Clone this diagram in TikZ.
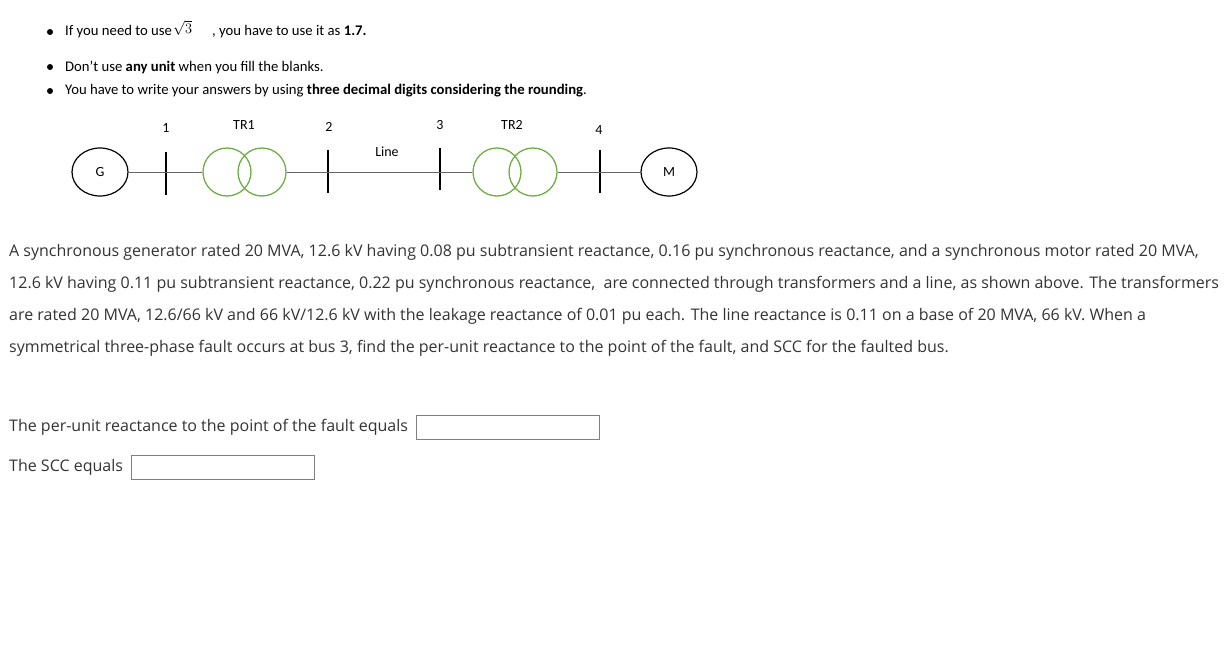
\documentclass[tikz,border=0pt]{standalone}
\usepackage{fontspec}
\usetikzlibrary{shapes.geometric}
\setmainfont{Carlito}
\newfontfamily\para{Open Sans}
\definecolor{tgreen}{RGB}{112,173,71}
\begin{document}
\begin{tikzpicture}[x=1pt,y=-1pt,
  bul/.style={anchor=west,inner sep=0pt,font=\fontsize{14.7}{17}\selectfont},
  par/.style={anchor=west,inner sep=0pt,font=\para\fontsize{16}{19}\selectfont,text=black!80},
  lab/.style={inner sep=0pt,font=\fontsize{14}{16}\selectfont},
  mach/.style={draw,line width=1.2pt,ellipse,minimum width=56pt,minimum height=48pt,inner sep=0pt,font=\fontsize{14}{16}\selectfont},
  tw/.style={draw=tgreen,line width=1.3pt,circle,minimum size=48pt,inner sep=0pt},
  bus/.style={line width=1.3pt},
  wire/.style={line width=0.8pt,black!60},
  ans/.style={draw=black!50,minimum width=183pt,minimum height=24pt,inner sep=0pt}]
\useasboundingbox (0,0) rectangle (1227,648);
\foreach \y in {32,67,91} \fill (50,\y) circle (3pt);
\node[bul] (b1) at (65,32) {If you need to use};
\node[bul] (s3) at (173,28) {$\sqrt{3}$};
\node[bul] (b1b) at (212,32) {, you have to use it as \textbf{1.7.}};
\node[bul] (b2) at (65,67) {Don’t use \textbf{any unit} when you fill the blanks.};
\node[bul] (b3) at (65,91) {You have to write your answers by using \textbf{three decimal digits considering the rounding}.};
% diagram
\node[mach] (G) at (100,172) {G};
\node[mach] (M) at (669,172) {M};
\node[tw] (t1a) at (227,172) {};
\node[tw] (t1b) at (262,172) {};
\node[tw] (t2a) at (497,172) {};
\node[tw] (t2b) at (533,172) {};
\coordinate (b1t) at (166,152); \coordinate (b1d) at (166,195);
\coordinate (b2t) at (328,150); \coordinate (b2d) at (328,193);
\coordinate (b3t) at (440,148); \coordinate (b3d) at (440,190);
\coordinate (b4t) at (600,150); \coordinate (b4d) at (600,193);
\draw[bus] (b1t)--(b1d); \draw[bus] (b2t)--(b2d); \draw[bus] (b3t)--(b3d); \draw[bus] (b4t)--(b4d);
\draw[wire] (G.east)--(t1a.west);
\draw[wire] (t1b.east)--(t2a.west);
\draw[wire] (t2b.east)--(M.west);
\node[lab] (l1) at (166,128) {1};
\node[lab] (lt1) at (244,125) {TR1};
\node[lab] (l2) at (329,127) {2};
\node[lab] (ll) at (387,152) {Line};
\node[lab] (l3) at (440,125) {3};
\node[lab] (lt2) at (512,125) {TR2};
\node[lab] (l4) at (599,130) {4};
% paragraph
\node[par] (p1) at (9,252) {A synchronous generator rated 20 MVA, 12.6 kV having 0.08 pu subtransient reactance, 0.16 pu synchronous reactance, and a synchronous motor rated 20 MVA,};
\node[par] (p2) at (9,284) {12.6 kV having 0.11 pu subtransient reactance, 0.22 pu synchronous reactance,\ \ are connected through transformers and a line, as shown above. The transformers};
\node[par] (p3) at (9,316) {are rated 20 MVA, 12.6/66 kV and 66 kV/12.6 kV with the leakage reactance of 0.01 pu each. The line reactance is 0.11 on a base of 20 MVA, 66 kV. When a};
\node[par] (p4) at (9,348) {symmetrical three-phase fault occurs at bus 3, find the per-unit reactance to the point of the fault, and SCC for the faulted bus.};
\node[par] (q1) at (9,427) {The per-unit reactance to the point of the fault equals};
\node[ans] (a1) at (508,427) {};
\node[par] (q2) at (9,467) {The SCC equals};
\node[ans] (a2) at (222.5,467) {};
\end{tikzpicture}
\end{document}
